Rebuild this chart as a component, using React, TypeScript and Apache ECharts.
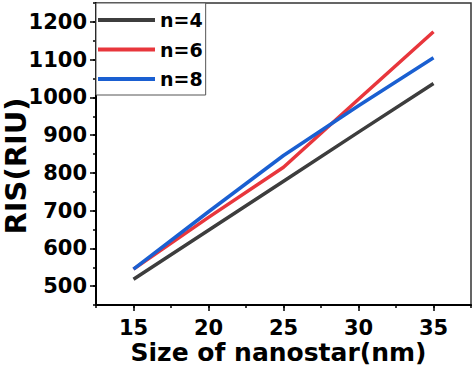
import React, { useEffect, useRef } from "react";
import * as echarts from "echarts";

const sizes = [15, 20, 25, 30, 35];
const n4 = [518, 648, 778, 908, 1037];
const n6 = [545, 682, 815, 995, 1174];
const n8 = [545, 697, 846, 978, 1105];
const seriesNames = ["n=4", "n=6", "n=8"];
const colors = ["#3d3d3d", "#e8363c", "#1a5fd1"];
const yTicks = [500, 600, 700, 800, 900, 1000, 1100, 1200];
const xTicks = [15, 20, 25, 30, 35];

const FONT = "DejaVu Sans";

export default function App() {
  const ref = useRef<HTMLDivElement>(null);
  useEffect(() => {
    if (!ref.current) return;
    const chart = echarts.init(ref.current, null, { renderer: "svg" });
    const values = [n4, n6, n8];
    chart.setOption({
      animation: false,
      backgroundColor: "#ffffff",
      grid: {
        left: 96,
        top: 3,
        right: 3,
        bottom: 71,
        containLabel: false,
        outerBoundsMode: "none",
        show: true,
        borderColor: "#333",
        borderWidth: 1.5,
      },
      legend: {
        left: 96,
        top: 3,
        orient: "vertical",
        icon: "rect",
        itemWidth: 57,
        itemHeight: 4,
        itemGap: 9.5,
        padding: [7, 3, 6, 2],
        borderColor: "#555",
        borderWidth: 1,
        backgroundColor: "#fff",
        borderRadius: 0,
        textStyle: {
          fontFamily: FONT,
          fontWeight: "bold",
          fontSize: 19,
          lineHeight: 20,
          color: "#000",
        },
        data: seriesNames,
      },
      xAxis: [
        {
          type: "value",
          min: 12.5,
          max: 37.5,
          position: "bottom",
          axisLine: { lineStyle: { color: "#000", width: 2 } },
          axisTick: { customValues: xTicks, length: 6, lineStyle: { color: "#000", width: 1.5 } },
          axisLabel: {
            customValues: xTicks,
            formatter: (v: number) => String(v),
            margin: 12,
            fontFamily: FONT,
            fontWeight: "bold",
            fontSize: 21,
            lineHeight: 21,
            color: "#000",
          },
          splitLine: { show: false },
          name: "Size of nanostar(nm)",
          nameLocation: "middle",
          nameGap: 35,
          nameMoveOverlap: false,
          nameTextStyle: {
            fontFamily: FONT,
            fontWeight: "bold",
            fontSize: 25,
            lineHeight: 25,
            color: "#000",
            padding: [0, 10, 0, 0],
          },
        },
        {
          type: "value",
          min: 12.5,
          max: 37.5,
          interval: 2.5,
          position: "bottom",
          axisLine: { show: false },
          axisTick: { length: 3, lineStyle: { color: "#000", width: 1.5 } },
          axisLabel: { show: false },
          splitLine: { show: false },
        },
      ],
      yAxis: [
        {
          type: "value",
          min: 450,
          max: 1250,
          position: "left",
          axisLine: { show: true, lineStyle: { color: "#000", width: 2 } },
          axisTick: { show: true, customValues: yTicks, length: 6, lineStyle: { color: "#000", width: 1.5 } },
          axisLabel: {
            customValues: yTicks,
            formatter: (v: number) => String(v),
            margin: 9,
            fontFamily: FONT,
            fontWeight: "bold",
            fontSize: 21,
            color: "#000",
          },
          splitLine: { show: false },
          name: "RIS(RIU)",
          nameLocation: "middle",
          nameGap: 66,
          nameMoveOverlap: false,
          nameTextStyle: {
            fontFamily: FONT,
            fontWeight: "bold",
            fontSize: 29,
            lineHeight: 28,
            color: "#000",
            padding: [0, 24, 0, 0],
          },
        },
        {
          type: "value",
          min: 450,
          max: 1250,
          interval: 50,
          position: "left",
          axisLine: { show: false },
          axisTick: { show: true, length: 3, lineStyle: { color: "#000", width: 1.5 } },
          axisLabel: { show: false },
          splitLine: { show: false },
        },
      ],
      series: seriesNames.map((name, i) => ({
        name,
        type: "line",
        xAxisIndex: 0,
        yAxisIndex: 0,
        symbol: "none",
        color: colors[i],
        lineStyle: { width: 3.5, color: colors[i] },
        data: sizes.map((s, j) => [s, values[i][j]]),
      })),
    });
    return () => chart.dispose();
  }, []);
  return <div ref={ref} style={{ width: 474, height: 376, position: "absolute", left: 0, top: 0 }} />;
}
